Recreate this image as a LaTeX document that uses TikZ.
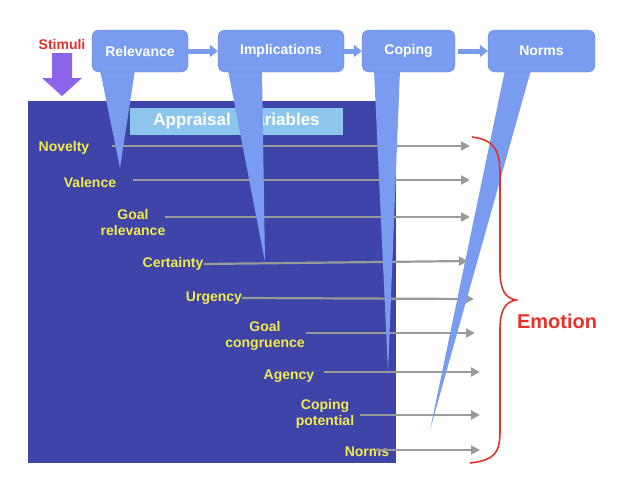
\documentclass[tikz,border=0pt]{standalone}
\usepackage{fontspec}
\setmainfont{Liberation Sans}
\usetikzlibrary{arrows.meta}
\definecolor{bgblue}{HTML}{3F45A8}
\definecolor{bub}{HTML}{7A9CF0}
\definecolor{ylw}{HTML}{F2EA4E}
\definecolor{gry}{HTML}{9A9A9A}
\definecolor{lbl}{HTML}{8CC6EC}
\definecolor{emo}{HTML}{E8302A}
\begin{document}
\begin{tikzpicture}[x=1pt,y=-1pt,
  var/.style={text=ylw,font=\bfseries\fontsize{14}{16}\selectfont,align=center,inner sep=0pt},
  link/.style={draw=gry,line width=2.2pt,-{Triangle[length=9pt,width=9pt]}},
  box/.style={fill=bub,draw=bub!80!black,line width=0.3pt,rounded corners=7pt,text=white,font=\bfseries\fontsize{14}{16}\selectfont},
  tail/.style={fill=bub,draw=none},
  barrow/.style={draw=bub,line width=5pt,-{Triangle[length=8pt,width=12pt]}}]
\useasboundingbox (0,0) rectangle (638,493);
\fill[bgblue] (28,101) rectangle (396,463);
\node[text=emo,font=\bfseries\fontsize{14}{16}\selectfont] (stim) at (62,44) {Stimuli};
\fill[color={rgb,255:red,140;green,100;blue,235}] (52,53) -- (72,53) -- (72,78) -- (82,78) -- (62,96) -- (42,78) -- (52,78) -- cycle;
\node[fill=lbl,text=white,font=\bfseries\fontsize{17}{19}\selectfont,minimum width=213pt,minimum height=27pt,inner sep=0pt] (av) at (236.5,121.5) {Appraisal\ \ \ Variables};
% variables
\node[var] (nov) at (64,148) {Novelty};
\node[var] (val) at (90,182) {Valence};
\node[var] (gr) at (133,222) {Goal\\relevance};
\node[var] (cer) at (173,264) {Certainty};
\node[var] (urg) at (214,298) {Urgency};
\node[var] (gc) at (265,336) {Goal\\congruence};
\node[var] (ag) at (289,376) {Agency};
\node[var] (cp) at (325,414) {Coping\\potential};
\node[var] (nor) at (367,452) {Norms};
\coordinate (e1) at (470,146); \coordinate (e2) at (470,180);
\coordinate (e3) at (470,217); \coordinate (e4) at (468,261);
\coordinate (e5) at (474,299); \coordinate (e6) at (475,333);
\coordinate (e7) at (480,372); \coordinate (e8) at (480,415);
\coordinate (e9) at (480,450);
\draw[link] (112,146) -- (e1);
\draw[link] (133,180) -- (e2);
\draw[link] (165,217) -- (e3);
\draw[link] (cer.east) -- (e4);
\draw[link] (urg.east) -- (e5);
\draw[link] (306,333) -- (e6);
\draw[link] (324,372) -- (e7);
\draw[link] (360,415) -- (e8);
\draw[link] (375,450) -- (e9);
% balloon tails
\fill[tail] (100,70) -- (135,70) -- (120,168) -- cycle;
\fill[tail] (228,70) -- (262,70) -- (265,262) -- cycle;
\fill[tail] (374,70) -- (400,70) -- (388,372) -- cycle;
\fill[tail] (505,70) -- (531,70) -- (430,430) -- cycle;
% boxes
\node[box,minimum width=96pt,minimum height=42pt] (rel) at (140,51) {Relevance};
\node[box,minimum width=126pt,minimum height=42pt] (imp) at (281,51) {Implications};
\node[box,minimum width=93pt,minimum height=42pt] (cop) at (408.5,51) {Coping};
\node[box,minimum width=107pt,minimum height=42pt] (nrm) at (541.5,51) {Norms};
\draw[barrow] (rel.east) -- (imp.west);
\draw[barrow] (imp.east) -- (cop.west);
\draw[barrow] ([xshift=3pt]cop.east) -- (nrm.west);
% brace
\draw[emo,line width=1.6pt] (472,137) .. controls (496,140) and (500,152) .. (500,175) -- (500,270)
  .. controls (500,290) and (505,298) .. (516,300)
  .. controls (505,302) and (500,310) .. (500,330) -- (500,430)
  .. controls (500,452) and (496,460) .. (470,463);
\node[text=emo,font=\bfseries\fontsize{20}{22}\selectfont] (emotion) at (557,321) {Emotion};
\end{tikzpicture}
\end{document}
